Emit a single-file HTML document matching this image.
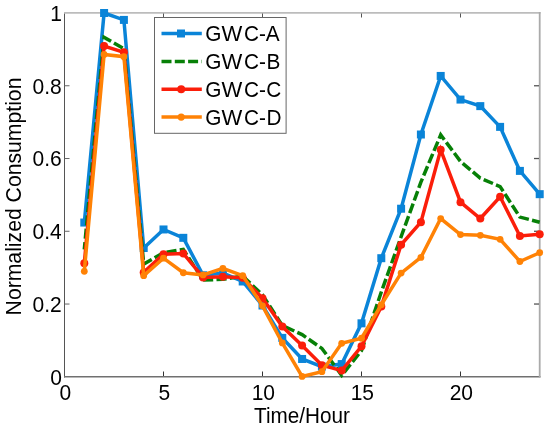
<!DOCTYPE html><html><head><meta charset="utf-8"><style>
html,body{margin:0;padding:0;background:#fff;}
svg{display:block;}
text{font-family:"Liberation Sans",Arial,Helvetica,sans-serif;fill:#000;}
</style></head><body>
<svg width="550" height="430" viewBox="0 0 550 430">
<rect width="550" height="430" fill="#fff"/>
<line x1="64.5" y1="12" x2="64.5" y2="377.5" stroke="#555" stroke-width="1"/>
<line x1="64" y1="376.8" x2="540.5" y2="376.8" stroke="#707070" stroke-width="1.6"/>
<line x1="64" y1="12.9" x2="540.5" y2="12.9" stroke="#bcbcbc" stroke-width="1.6"/>
<line x1="539.7" y1="12" x2="539.7" y2="377.5" stroke="#aaa" stroke-width="1.8"/>
<line x1="163.50" y1="376" x2="163.50" y2="371.5" stroke="#333" stroke-width="1"/>
<line x1="163.50" y1="13.5" x2="163.50" y2="17.5" stroke="#555" stroke-width="1"/>
<line x1="262.50" y1="376" x2="262.50" y2="371.5" stroke="#333" stroke-width="1"/>
<line x1="262.50" y1="13.5" x2="262.50" y2="17.5" stroke="#555" stroke-width="1"/>
<line x1="361.50" y1="376" x2="361.50" y2="371.5" stroke="#333" stroke-width="1"/>
<line x1="361.50" y1="13.5" x2="361.50" y2="17.5" stroke="#555" stroke-width="1"/>
<line x1="460.50" y1="376" x2="460.50" y2="371.5" stroke="#333" stroke-width="1"/>
<line x1="460.50" y1="13.5" x2="460.50" y2="17.5" stroke="#555" stroke-width="1"/>
<line x1="64.5" y1="304.04" x2="69.5" y2="304.04" stroke="#666" stroke-width="1"/>
<line x1="539" y1="304.04" x2="534" y2="304.04" stroke="#555" stroke-width="1.3"/>
<line x1="64.5" y1="231.28" x2="69.5" y2="231.28" stroke="#666" stroke-width="1"/>
<line x1="539" y1="231.28" x2="534" y2="231.28" stroke="#555" stroke-width="1.3"/>
<line x1="64.5" y1="158.52" x2="69.5" y2="158.52" stroke="#666" stroke-width="1"/>
<line x1="539" y1="158.52" x2="534" y2="158.52" stroke="#555" stroke-width="1.3"/>
<line x1="64.5" y1="85.76" x2="69.5" y2="85.76" stroke="#666" stroke-width="1"/>
<line x1="539" y1="85.76" x2="534" y2="85.76" stroke="#555" stroke-width="1.3"/>
<text transform="translate(61.8,384.60) scale(1,1.05)" font-size="21" text-anchor="end">0</text>
<text transform="translate(61.8,311.84) scale(1,1.05)" font-size="21" text-anchor="end">0.2</text>
<text transform="translate(61.8,239.08) scale(1,1.05)" font-size="21" text-anchor="end">0.4</text>
<text transform="translate(61.8,166.32) scale(1,1.05)" font-size="21" text-anchor="end">0.6</text>
<text transform="translate(61.8,93.56) scale(1,1.05)" font-size="21" text-anchor="end">0.8</text>
<text transform="translate(61.8,20.80) scale(1,1.05)" font-size="21" text-anchor="end">1</text>
<text transform="translate(65.30,400.2) scale(1,1.05)" font-size="21" text-anchor="middle">0</text>
<text transform="translate(164.30,400.2) scale(1,1.05)" font-size="21" text-anchor="middle">5</text>
<text transform="translate(263.30,400.2) scale(1,1.05)" font-size="21" text-anchor="middle">10</text>
<text transform="translate(362.30,400.2) scale(1,1.05)" font-size="21" text-anchor="middle">15</text>
<text transform="translate(461.30,400.2) scale(1,1.05)" font-size="21" text-anchor="middle">20</text>
<text transform="translate(301.9,423.1) scale(1,1.08)" font-size="20.7" text-anchor="middle">Time/Hour</text>
<text transform="translate(20.9,196.5) rotate(-90) scale(1,1.06)" font-size="21.2" text-anchor="middle">Normalized Consumption</text>
<polyline points="84.30,222.55 104.10,13.00 123.90,19.91 143.70,248.01 163.50,229.46 183.30,237.83 203.10,275.30 222.90,273.12 242.70,281.48 262.50,305.50 282.30,337.87 302.10,358.97 321.90,366.61 341.70,364.07 361.50,323.32 381.30,258.20 401.10,208.72 420.90,134.51 440.70,75.94 460.50,99.58 480.30,106.13 500.10,126.87 519.90,170.89 539.70,194.17" fill="none" stroke="#0a84d8" stroke-width="3.5" stroke-linejoin="miter" stroke-miterlimit="4"/>
<rect x="80.30" y="218.55" width="8" height="8" fill="#0a84d8"/>
<rect x="100.10" y="9.00" width="8" height="8" fill="#0a84d8"/>
<rect x="119.90" y="15.91" width="8" height="8" fill="#0a84d8"/>
<rect x="139.70" y="244.01" width="8" height="8" fill="#0a84d8"/>
<rect x="159.50" y="225.46" width="8" height="8" fill="#0a84d8"/>
<rect x="179.30" y="233.83" width="8" height="8" fill="#0a84d8"/>
<rect x="199.10" y="271.30" width="8" height="8" fill="#0a84d8"/>
<rect x="218.90" y="269.12" width="8" height="8" fill="#0a84d8"/>
<rect x="238.70" y="277.48" width="8" height="8" fill="#0a84d8"/>
<rect x="258.50" y="301.50" width="8" height="8" fill="#0a84d8"/>
<rect x="278.30" y="333.87" width="8" height="8" fill="#0a84d8"/>
<rect x="298.10" y="354.97" width="8" height="8" fill="#0a84d8"/>
<rect x="317.90" y="362.61" width="8" height="8" fill="#0a84d8"/>
<rect x="337.70" y="360.07" width="8" height="8" fill="#0a84d8"/>
<rect x="357.50" y="319.32" width="8" height="8" fill="#0a84d8"/>
<rect x="377.30" y="254.20" width="8" height="8" fill="#0a84d8"/>
<rect x="397.10" y="204.72" width="8" height="8" fill="#0a84d8"/>
<rect x="416.90" y="130.51" width="8" height="8" fill="#0a84d8"/>
<rect x="436.70" y="71.94" width="8" height="8" fill="#0a84d8"/>
<rect x="456.50" y="95.58" width="8" height="8" fill="#0a84d8"/>
<rect x="476.30" y="102.13" width="8" height="8" fill="#0a84d8"/>
<rect x="496.10" y="122.87" width="8" height="8" fill="#0a84d8"/>
<rect x="515.90" y="166.89" width="8" height="8" fill="#0a84d8"/>
<rect x="535.70" y="190.17" width="8" height="8" fill="#0a84d8"/>
<polyline points="84.30,249.47 104.10,37.37 123.90,48.65 143.70,264.02 163.50,252.74 183.30,249.47 203.10,280.03 222.90,279.30 242.70,276.03 262.50,294.94 282.30,325.50 302.10,334.60 321.90,348.42 341.70,375.34 361.50,350.61 381.30,292.03 401.10,236.74 420.90,182.17 440.70,134.87 460.50,161.43 480.30,178.17 500.10,186.53 519.90,217.09 539.70,222.19" fill="none" stroke="#078007" stroke-width="3.5" stroke-linejoin="miter" stroke-miterlimit="4" stroke-dasharray="10.05,3.3" stroke-dashoffset="2.6"/>
<polyline points="84.30,263.29 104.10,46.11 123.90,52.29 143.70,272.39 163.50,254.20 183.30,253.47 203.10,277.48 222.90,276.75 242.70,277.85 262.50,298.22 282.30,326.60 302.10,345.51 321.90,365.16 341.70,370.62 361.50,346.24 381.30,306.59 401.10,244.74 420.90,222.19 440.70,149.79 460.50,202.18 480.30,218.55 500.10,196.72 519.90,236.01 539.70,234.19" fill="none" stroke="#fb1e0a" stroke-width="3.5" stroke-linejoin="miter" stroke-miterlimit="4"/>
<circle cx="84.30" cy="263.29" r="4" fill="#fb1e0a"/>
<circle cx="104.10" cy="46.11" r="4" fill="#fb1e0a"/>
<circle cx="123.90" cy="52.29" r="4" fill="#fb1e0a"/>
<circle cx="143.70" cy="272.39" r="4" fill="#fb1e0a"/>
<circle cx="163.50" cy="254.20" r="4" fill="#fb1e0a"/>
<circle cx="183.30" cy="253.47" r="4" fill="#fb1e0a"/>
<circle cx="203.10" cy="277.48" r="4" fill="#fb1e0a"/>
<circle cx="222.90" cy="276.75" r="4" fill="#fb1e0a"/>
<circle cx="242.70" cy="277.85" r="4" fill="#fb1e0a"/>
<circle cx="262.50" cy="298.22" r="4" fill="#fb1e0a"/>
<circle cx="282.30" cy="326.60" r="4" fill="#fb1e0a"/>
<circle cx="302.10" cy="345.51" r="4" fill="#fb1e0a"/>
<circle cx="321.90" cy="365.16" r="4" fill="#fb1e0a"/>
<circle cx="341.70" cy="370.62" r="4" fill="#fb1e0a"/>
<circle cx="361.50" cy="346.24" r="4" fill="#fb1e0a"/>
<circle cx="381.30" cy="306.59" r="4" fill="#fb1e0a"/>
<circle cx="401.10" cy="244.74" r="4" fill="#fb1e0a"/>
<circle cx="420.90" cy="222.19" r="4" fill="#fb1e0a"/>
<circle cx="440.70" cy="149.79" r="4" fill="#fb1e0a"/>
<circle cx="460.50" cy="202.18" r="4" fill="#fb1e0a"/>
<circle cx="480.30" cy="218.55" r="4" fill="#fb1e0a"/>
<circle cx="500.10" cy="196.72" r="4" fill="#fb1e0a"/>
<circle cx="519.90" cy="236.01" r="4" fill="#fb1e0a"/>
<circle cx="539.70" cy="234.19" r="4" fill="#fb1e0a"/>
<polyline points="84.30,271.30 104.10,54.47 123.90,56.66 143.70,275.66 163.50,258.20 183.30,272.75 203.10,274.94 222.90,268.39 242.70,275.66 262.50,305.86 282.30,342.97 302.10,376.44 321.90,371.71 341.70,343.33 361.50,338.24 381.30,304.77 401.10,273.12 420.90,257.47 440.70,218.55 460.50,234.55 480.30,235.28 500.10,239.28 519.90,261.48 539.70,252.74" fill="none" stroke="#ff8205" stroke-width="3.5" stroke-linejoin="miter" stroke-miterlimit="4"/>
<circle cx="84.30" cy="271.30" r="3.4" fill="#ff8205"/>
<circle cx="104.10" cy="54.47" r="3.4" fill="#ff8205"/>
<circle cx="123.90" cy="56.66" r="3.4" fill="#ff8205"/>
<circle cx="143.70" cy="275.66" r="3.4" fill="#ff8205"/>
<circle cx="163.50" cy="258.20" r="3.4" fill="#ff8205"/>
<circle cx="183.30" cy="272.75" r="3.4" fill="#ff8205"/>
<circle cx="203.10" cy="274.94" r="3.4" fill="#ff8205"/>
<circle cx="222.90" cy="268.39" r="3.4" fill="#ff8205"/>
<circle cx="242.70" cy="275.66" r="3.4" fill="#ff8205"/>
<circle cx="262.50" cy="305.86" r="3.4" fill="#ff8205"/>
<circle cx="282.30" cy="342.97" r="3.4" fill="#ff8205"/>
<circle cx="302.10" cy="376.44" r="3.4" fill="#ff8205"/>
<circle cx="321.90" cy="371.71" r="3.4" fill="#ff8205"/>
<circle cx="341.70" cy="343.33" r="3.4" fill="#ff8205"/>
<circle cx="361.50" cy="338.24" r="3.4" fill="#ff8205"/>
<circle cx="381.30" cy="304.77" r="3.4" fill="#ff8205"/>
<circle cx="401.10" cy="273.12" r="3.4" fill="#ff8205"/>
<circle cx="420.90" cy="257.47" r="3.4" fill="#ff8205"/>
<circle cx="440.70" cy="218.55" r="3.4" fill="#ff8205"/>
<circle cx="460.50" cy="234.55" r="3.4" fill="#ff8205"/>
<circle cx="480.30" cy="235.28" r="3.4" fill="#ff8205"/>
<circle cx="500.10" cy="239.28" r="3.4" fill="#ff8205"/>
<circle cx="519.90" cy="261.48" r="3.4" fill="#ff8205"/>
<circle cx="539.70" cy="252.74" r="3.4" fill="#ff8205"/>
<rect x="154.5" y="17.5" width="131.6" height="115.8" fill="#fff" stroke="#666" stroke-width="1"/>
<line x1="161.5" y1="33.50" x2="201.8" y2="33.50" stroke="#0a84d8" stroke-width="3.5"/>
<rect x="177" y="29.50" width="8" height="8" fill="#0a84d8"/>
<text transform="translate(0,41.00) scale(1,1.02)" y="0" font-size="20.8"><tspan x="205.20">G</tspan><tspan x="221.60" textLength="20.80" lengthAdjust="spacingAndGlyphs">W</tspan><tspan x="244.00">C</tspan><tspan x="259.10">-</tspan><tspan x="265.80">A</tspan></text>
<line x1="161.5" y1="61.40" x2="201.8" y2="61.40" stroke="#078007" stroke-width="3.5" stroke-dasharray="10,3.3"/>
<text transform="translate(0,68.90) scale(1,1.02)" y="0" font-size="20.8"><tspan x="205.20">G</tspan><tspan x="221.60" textLength="20.80" lengthAdjust="spacingAndGlyphs">W</tspan><tspan x="244.00">C</tspan><tspan x="259.10">-</tspan><tspan x="266.40">B</tspan></text>
<line x1="161.5" y1="89.30" x2="201.8" y2="89.30" stroke="#fb1e0a" stroke-width="3.5"/>
<circle cx="181.2" cy="89.30" r="4" fill="#fb1e0a"/>
<text transform="translate(0,96.80) scale(1,1.02)" y="0" font-size="20.8"><tspan x="205.20">G</tspan><tspan x="221.60" textLength="20.80" lengthAdjust="spacingAndGlyphs">W</tspan><tspan x="244.00">C</tspan><tspan x="259.10">-</tspan><tspan x="266.30">C</tspan></text>
<line x1="161.5" y1="117.10" x2="201.8" y2="117.10" stroke="#ff8205" stroke-width="3.5"/>
<circle cx="181.2" cy="117.10" r="3.6" fill="#ff8205"/>
<text transform="translate(0,124.60) scale(1,1.02)" y="0" font-size="20.8"><tspan x="205.20">G</tspan><tspan x="221.60" textLength="20.80" lengthAdjust="spacingAndGlyphs">W</tspan><tspan x="244.00">C</tspan><tspan x="259.10">-</tspan><tspan x="266.40">D</tspan></text>
</svg></body></html>
